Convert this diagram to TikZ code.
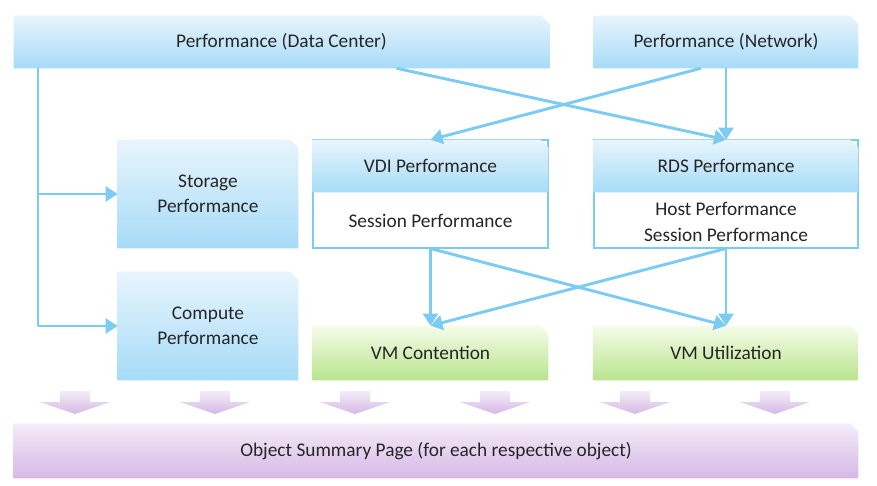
\documentclass[tikz,border=0pt]{standalone}
\usepackage{fontspec}
\setmainfont{Carlito}
\usetikzlibrary{arrows.meta,backgrounds}
\definecolor{bl1}{HTML}{E8F5FD}
\definecolor{bl2}{HTML}{A6DBF7}
\definecolor{gr1}{HTML}{F6FCEA}
\definecolor{gr2}{HTML}{B9E48C}
\definecolor{pu1}{HTML}{F4ECF8}
\definecolor{pu2}{HTML}{D6B8E6}
\definecolor{ln}{HTML}{7CCBF3}
\newcommand{\snip}[3]{\shade[top color=#2,bottom color=#3] (#1.north west) -- ([xshift=-6pt]#1.north east) -- ([yshift=-6pt]#1.north east) -- (#1.south east) -- (#1.south west) -- cycle;}
\begin{document}
\begin{tikzpicture}[x=0.75pt,y=-0.75pt,
  box/.style={rectangle,inner sep=0pt,align=center,font=\fontsize{14.5}{19}\selectfont,text=black!85},
  white/.style={box,draw=ln,line width=0.8pt,fill=white},
  con/.style={draw=ln,line width=2.2pt,-{Triangle[length=9pt,width=11pt]}},
  pl/.style={draw=ln,line width=2.2pt}]
\useasboundingbox (0,0) rectangle (877,485);
\node[white,minimum width=235*0.75pt,minimum height=108*0.75pt] (vdib) at (430.5,194) {};
\node[white,minimum width=264*0.75pt,minimum height=108*0.75pt] (rdsb) at (726,194) {};
\node[box,minimum width=535*0.75pt,minimum height=52*0.75pt] (dc) at (281.5,42) {Performance (Data Center)};
\node[box,minimum width=264*0.75pt,minimum height=52*0.75pt] (net) at (726,42) {Performance (Network)};
\node[box,minimum width=180*0.75pt,minimum height=108*0.75pt] (sto) at (208,194) {Storage\\Performance};
\node[box,minimum width=180*0.75pt,minimum height=108*0.75pt] (cmp) at (208,326) {Compute\\Performance};
\node[box,minimum width=235*0.75pt,minimum height=52*0.75pt] (vdi) at (430.5,166) {VDI Performance};
\node[box] (vdit) at (430.5,221) {Session Performance};
\node[box,minimum width=264*0.75pt,minimum height=52*0.75pt] (rds) at (726,166) {RDS Performance};
\node[box] (rdst) at (726,222) {Host Performance\\Session Performance};
\node[box,minimum width=235*0.75pt,minimum height=54*0.75pt] (vmc) at (430.5,353) {VM Contention};
\node[box,minimum width=264*0.75pt,minimum height=54*0.75pt] (vmu) at (726,353) {VM Utilization};
\node[box,minimum width=844*0.75pt,minimum height=54*0.75pt] (sum) at (436,451) {Object Summary Page (for each respective object)};
\begin{pgfonlayer}{background}
\foreach \n in {dc,net,sto,cmp} {\snip{\n}{bl1}{bl2}}
\foreach \n in {vmc,vmu} {\snip{\n}{gr1}{gr2}}
\snip{sum}{pu1}{pu2}
\end{pgfonlayer}
\node[box] (vdih) at (vdi) {};
\begin{scope}[on background layer]\end{scope}
\shade[top color=bl1,bottom color=bl2] (vdi.north west) -- ([xshift=-6pt]vdi.north east) -- ([yshift=-6pt]vdi.north east) -- (vdi.south east) -- (vdi.south west) -- cycle;
\shade[top color=bl1,bottom color=bl2] (rds.north west) -- ([xshift=-6pt]rds.north east) -- ([yshift=-6pt]rds.north east) -- (rds.south east) -- (rds.south west) -- cycle;
\node[box] at (vdi) {VDI Performance};
\node[box] at (rds) {RDS Performance};
% purple arrows
\foreach \x in {75,215,355,495,635,775}
  \shade[top color=pu1,bottom color=pu2] (\x-15,391) -- (\x+15,391) -- (\x+15,402) -- (\x+35,402) -- (\x,414) -- (\x-35,402) -- (\x-15,402) -- cycle;
% connectors
\coordinate (c1) at (38,68);
\coordinate (c2) at (38,194);
\coordinate (c3) at (38,326);
\draw[pl] (c1) -- (c3);
\draw[con] (c2) -- (sto.west);
\draw[con] (c3) -- (cmp.west);
\draw[con] (dc.south) ++(115,0) -- (rds.north);
\draw[con] (net.south) -- (rds.north);
\draw[con] ([xshift=-25*0.75pt]net.south) -- (vdi.north);
\draw[con] (vdib.south) -- (vmc.north);
\draw[con] (vdib.south) -- (vmu.north);
\draw[con] (rdsb.south) -- (vmu.north);
\draw[con] (rdsb.south) -- (vmc.north);
\end{tikzpicture}
\end{document}
